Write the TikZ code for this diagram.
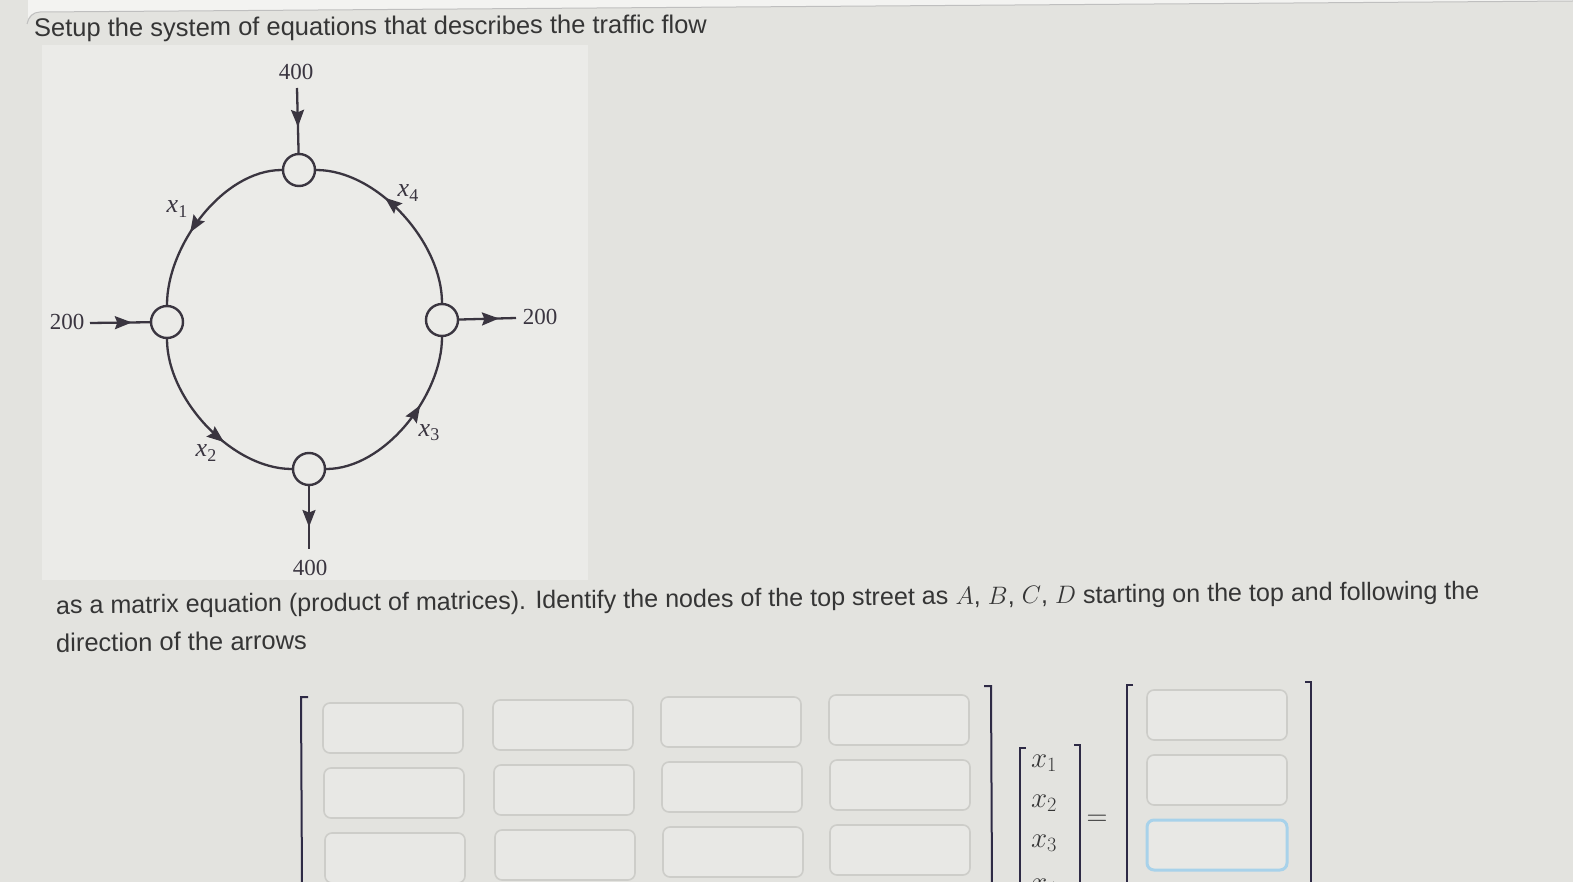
\RequirePackage{fix-cm}
\documentclass[tikz,border=0pt]{standalone}
\usepackage{fontspec}
\setmainfont{Liberation Sans}
\newfontfamily\dserif{Liberation Serif}
\usetikzlibrary{arrows.meta,decorations.markings}
\definecolor{bgc}{HTML}{E3E3DF}
\definecolor{panelc}{HTML}{EBEBE8}
\definecolor{cardc}{HTML}{F3F3F1}
\definecolor{boxfill}{HTML}{E8E8E5}
\definecolor{boxline}{HTML}{CDCDC9}
\definecolor{txtc}{HTML}{353535}
\definecolor{linec}{HTML}{3A3540}
\definecolor{brackc}{HTML}{2E2A45}
\definecolor{glowc}{HTML}{A8D2EA}
\tikzset{
  jn/.style={circle,draw=linec,line width=2.4pt,fill=panelc,minimum size=32pt,inner sep=0pt},
  street/.style={draw=linec,line width=2.3pt},
  ring/.style={draw=linec,line width=2.3pt,looseness=0.85},
  midarrow/.style={postaction={decorate,decoration={markings,mark=at position #1 with {\arrow{Stealth[length=17pt,width=13pt,inset=2.5pt]}}}}},
  dlabel/.style={font=\dserif\fontsize{23}{26}\selectfont,text=linec,inner sep=0pt},
  xlabel/.style={font=\dserif\fontsize{26}{29}\selectfont,text=linec,inner sep=0pt},
  qtext/.style={font=\fontsize{25.5}{30}\selectfont,text=txtc,inner sep=0pt,anchor=base west},
  ansbox/.style={draw=boxline,line width=1.6pt,fill=boxfill,rounded corners=7pt,minimum width=140pt,minimum height=50pt,inner sep=0pt},
  brk/.style={draw=brackc,line width=2pt},
  vent/.style={font=\fontsize{29}{32}\selectfont,text=txtc,inner sep=0pt}
}
\newcommand{\xs}[1]{\textit{x}\raisebox{-0.35ex}{\fontsize{18}{20}\selectfont #1}}
\begin{document}
\begin{tikzpicture}[x=1pt,y=-1pt]
\useasboundingbox (0,0) rectangle (1573,882);
\fill[bgc] (0,0) rectangle (1573,882);
% card top edge
\fill[cardc] (0,0) -- (1573,0) -- (1573,1) -- (40,12) to[out=180,in=90] (28,20) -- (28,0) -- cycle;
\draw[draw=black!25,line width=1pt] (1573,1) -- (40,12) to[out=180,in=80] (27,24);
% diagram panel
\fill[panelc] (42,45) rectangle (588,580);

% title
\node[qtext,rotate=0.35] (title) at (34,37) {Setup the system of equations that describes the traffic flow};

% junctions
\node[jn] (T) at (299,170) {};
\node[jn] (L) at (167,322) {};
\node[jn] (R) at (442,320) {};
\node[jn] (B) at (309,469) {};

% streets
\draw[ring,midarrow=0.6] (T) to[out=180,in=90] (L);
\draw[ring,midarrow=0.62] (L) to[out=-90,in=180] (B);
\draw[ring,midarrow=0.62] (B) to[out=0,in=-90] (R);
\draw[ring,midarrow=0.62] (R) to[out=90,in=0] (T);

% external flows
\coordinate (tin) at (297,88);
\coordinate (lin) at (90,323);
\coordinate (rout) at (516,318);
\coordinate (bout) at (309,549);
\draw[street,midarrow=0.6] (tin) -- (T);
\draw[street,midarrow=0.7] (lin) -- (L);
\draw[street,midarrow=0.7] (R) -- (rout);
\draw[street,midarrow=0.65] (B) -- (bout);

\node[dlabel] (ltop) at (296,72) {400};
\node[dlabel] (lleft) at (67,322) {200};
\node[dlabel] (lright) at (540,317) {200};
\node[dlabel] (lbot) at (310,568) {400};

\node[xlabel] (lx1) at (177,209) {\xs{1}};
\node[xlabel] (lx4) at (408,193) {\xs{4}};
\node[xlabel] (lx2) at (206,453) {\xs{2}};
\node[xlabel] (lx3) at (429,433) {\xs{3}};

% question text
\node[qtext,rotate=0.6,font=\fontsize{25.1}{30}\selectfont] (q1) at (56,614) {as a matrix equation (product of matrices). Identify the nodes of the top street as $A$, $B$, $C$, $D$ starting on the top and following the};
\node[qtext,rotate=0.6] (q2) at (56,652) {direction of the arrows};

% coefficient matrix boxes
\node[ansbox] (a11) at (393,728) {};
\node[ansbox] (a21) at (394,793) {};
\node[ansbox] (a31) at (395,858) {};
\node[ansbox] (a12) at (563,725) {};
\node[ansbox] (a22) at (564,790) {};
\node[ansbox] (a32) at (565,855) {};
\node[ansbox] (a13) at (731,722) {};
\node[ansbox] (a23) at (732,787) {};
\node[ansbox] (a33) at (733,852) {};
\node[ansbox] (a14) at (899,720) {};
\node[ansbox] (a24) at (900,785) {};
\node[ansbox] (a34) at (900,850) {};

% brackets of coefficient matrix
\draw[brk] (308,697) -- (301,697) -- (302,885);
\draw[brk] (984,686) -- (991,686) -- (992,885);

% vector of unknowns
\draw[brk,line width=1.6pt] (1026,748) -- (1020,748) -- (1020,885);
\draw[brk,line width=1.6pt] (1074,745) -- (1080,745) -- (1080,885);
\node[vent] (v1) at (1044,763) {$x_1$};
\node[vent] (v2) at (1044,803) {$x_2$};
\node[vent] (v3) at (1044,843) {$x_3$};
\node[vent] (v4) at (1044,887) {$x_4$};
\node[vent] (eq) at (1097,820) {$=$};

% right-hand side
\draw[brk] (1133,685) -- (1127,685) -- (1127,885);
\draw[brk] (1305,682) -- (1311,682) -- (1311,885);
\node[ansbox] (r1) at (1217,715) {};
\node[ansbox] (r2) at (1217,780) {};
\node[ansbox,draw=glowc,line width=3pt] (r3) at (1217,845) {};
\end{tikzpicture}
\end{document}
